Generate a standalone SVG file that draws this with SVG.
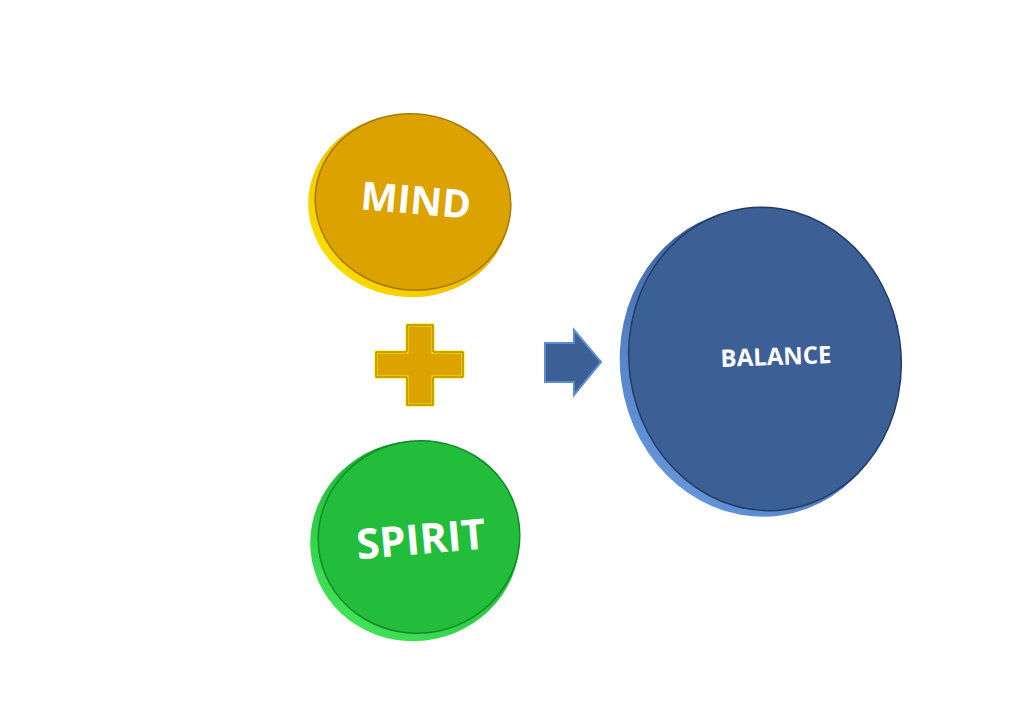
<svg xmlns="http://www.w3.org/2000/svg" width="1013" height="720" viewBox="0 0 1013 720">
<style>
.lbl{font-family:"Open Sans","Liberation Sans",sans-serif;font-weight:bold;fill:#ffffff;text-anchor:middle}
</style>
<defs>
<linearGradient id="gRimY" x1="0" y1="1" x2="1" y2="0"><stop offset="0" stop-color="#FFE600"/><stop offset="0.6" stop-color="#E8B800"/><stop offset="1" stop-color="#8A6200"/></linearGradient>
<linearGradient id="gRimG" x1="0" y1="1" x2="1" y2="0"><stop offset="0" stop-color="#4CF060"/><stop offset="0.6" stop-color="#22B83A"/><stop offset="1" stop-color="#0E6A20"/></linearGradient>
<linearGradient id="gRimB" x1="0" y1="1" x2="1" y2="0"><stop offset="0" stop-color="#6FA2E8"/><stop offset="0.6" stop-color="#3E68A8"/><stop offset="1" stop-color="#1E3560"/></linearGradient>
</defs>
<rect width="1013" height="720" fill="#ffffff"/>
<g id="mind">
<ellipse cx="409" cy="206" rx="101" ry="91" transform="rotate(8 409 206)" fill="url(#gRimY)"/>
<ellipse cx="413" cy="202" rx="98" ry="88" transform="rotate(8 413 202)" fill="#DCA300" stroke="#A87A00" stroke-width="1.5"/>
<text class="lbl" x="416" y="214" font-size="39" transform="rotate(5 416 200)">MIND</text>
</g>
<g id="plus">
<path d="M407,325 H433 V352 H463 V377 H433 V405 H407 V377 H376 V352 H407 Z" fill="#DCA300" stroke="#FFE600" stroke-width="3" stroke-linejoin="miter"/>
<path d="M407,325 H433 V352 H463 V377 H433 V405 H407 V377 H376 V352 H407 Z" fill="none" stroke="#8A6400" stroke-width="1"/>
</g>
<g id="spirit">
<ellipse cx="415" cy="541" rx="105" ry="100" transform="rotate(-12 415 541)" fill="url(#gRimG)"/>
<ellipse cx="419" cy="537" rx="101" ry="96" transform="rotate(-12 419 537)" fill="#22BD3A" stroke="#138A28" stroke-width="1.5"/>
<text class="lbl" x="421" y="554" font-size="42" transform="rotate(-5 421 540)">SPIRIT</text>
</g>
<g id="balance">
<ellipse cx="759" cy="363" rx="139" ry="154" transform="rotate(-8 759 363)" fill="url(#gRimB)"/>
<ellipse cx="765" cy="359" rx="136" ry="152" transform="rotate(-8 765 359)" fill="#3C5F95" stroke="#223C66" stroke-width="1.5"/>
<text class="lbl" x="776" y="365" font-size="24" transform="rotate(-2 776 357)">BALANCE</text>
</g>
<g id="connectors">
<path d="M545,343 H574 V330 L601,362 L574,395 V382 H545 Z" fill="#3C5F95" stroke="#5B8BD0" stroke-width="2" stroke-linejoin="miter"/>
</g>
</svg>
